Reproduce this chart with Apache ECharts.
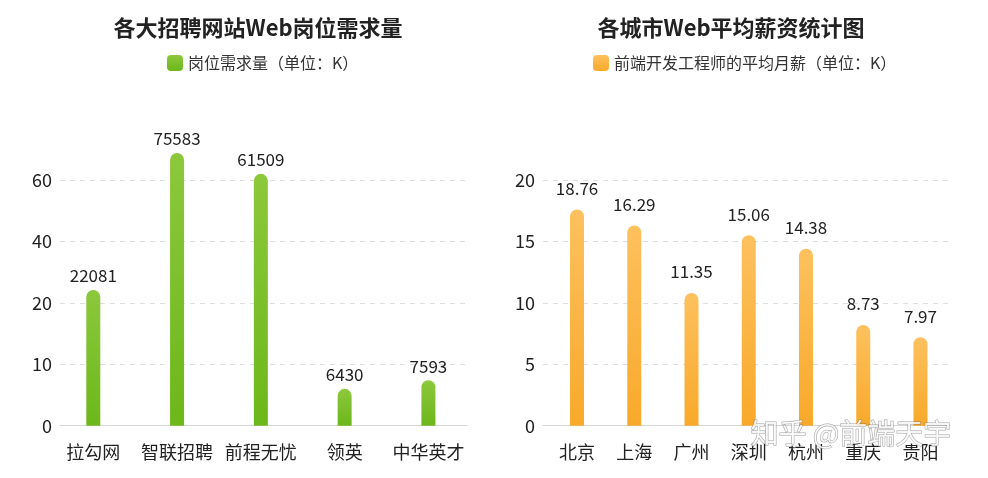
<!DOCTYPE html>
<html>
<head lang="zh">
    <meta charset="UTF-8">
    <title>Web岗位需求与薪资</title>
    <style>
        html, body { margin: 0; padding: 0; background: #fff; }
    </style>
</head>
<body>
<div id="container" style="height:478px;width:988px"></div>
<script type="text/javascript" src="https://cdn.jsdelivr.net/npm/echarts@6/dist/echarts.min.js"></script>
<script type="text/javascript">
    // 左图：各招聘网站
    var sites = ['拉勾网', '智联招聘', '前程无忧', '领英', '中华英才'];
    var jobLabels = ['22081', '75583', '61509', '6430', '7593'];
    var jobHeights = [24.2, 68.8, 62, 6.0, 7.4];   // 按图上纵轴读数
    var jobTicks = [0, 10, 20, 40, 60];             // 纵轴刻度（非等差）

    // 右图：各城市平均薪资
    var cities = ['北京', '上海', '广州', '深圳', '杭州', '重庆', '贵阳'];
    var salaryLabels = ['18.76', '16.29', '11.35', '15.06', '14.38', '8.73', '7.97'];
    var salaryHeights = [17.6, 16.3, 10.8, 15.5, 14.4, 8.2, 7.2];
    var salaryTicks = [0, 5, 10, 15, 20];

    var FONT = '"Noto Sans CJK SC", "Noto Sans", sans-serif';

    // 把图上读数换成刻度序号位置（左图纵轴刻度间距不等）
    function toTickPos(v, ticks) {
        for (var i = 1; i < ticks.length; i++) {
            if (v <= ticks[i] || i === ticks.length - 1) {
                return (i - 1) + (v - ticks[i - 1]) / (ticks[i] - ticks[i - 1]);
            }
        }
    }

    var dom = document.getElementById('container');
    var myChart = echarts.init(dom);

    var green = new echarts.graphic.LinearGradient(0, 0, 0, 1, [
        {offset: 0, color: '#8cc83c'},
        {offset: 1, color: '#6cb71a'}
    ]);
    var orange = new echarts.graphic.LinearGradient(0, 0, 0, 1, [
        {offset: 0, color: '#fdc15e'},
        {offset: 1, color: '#f8a92a'}
    ]);

    var gridTop = 180, gridBottom = 52.3;
    var splitStyle = {show: true, lineStyle: {color: '#dedede', type: [5, 5]}};
    var lineAxis = {show: true, lineStyle: {color: '#d6d6d6'}};
    var txt = '#222';

    var option = {
        textStyle: {fontFamily: FONT},
        animation: false,
        graphic: [
            {type: 'text', left: 263.5 - 150, top: 17, style: {text: '各大招聘网站Web岗位需求量', width: 300, align: 'center',
                font: 'bold 22px ' + FONT, fill: '#222'}},
            {type: 'text', left: 747.5 - 150, top: 17, style: {text: '各城市Web平均薪资统计图', width: 300, align: 'center',
                font: 'bold 22px ' + FONT, fill: '#222'}},
            {type: 'text', left: 750, top: 419, z: 100, style: {text: '知乎 @前端天宇',
                font: '28px ' + FONT, fill: 'rgba(255,255,255,0.8)', stroke: 'rgba(100,100,100,0.6)', lineWidth: 1}}
        ],
        legend: [
            {left: 162, top: 50, itemWidth: 16, itemHeight: 16, icon: 'roundRect', itemGap: 6,
                textStyle: {fontSize: 16, color: '#333', fontFamily: FONT},
                data: ['岗位需求量（单位：K）']},
            {left: 588, top: 50, itemWidth: 16, itemHeight: 16, icon: 'roundRect', itemGap: 6,
                textStyle: {fontSize: 16, color: '#333', fontFamily: FONT},
                data: ['前端开发工程师的平均月薪（单位：K）']}
        ],
        grid: [
            {left: 60, width: 407, top: gridTop, bottom: gridBottom},
            {left: 51.4, width: 418.9, top: gridTop, bottom: gridBottom},
            {left: 543, width: 407, top: gridTop, bottom: gridBottom},
            {left: 548.4, width: 400.7, top: gridTop, bottom: gridBottom}
        ],
        xAxis: [
            {gridIndex: 0, type: 'category', data: sites, axisLine: lineAxis, axisTick: {show: false}, axisLabel: {show: false}},
            {gridIndex: 1, type: 'category', data: sites, axisLine: {show: false}, axisTick: {show: false},
                axisLabel: {interval: 0, fontSize: 18, color: txt, margin: 17, fontFamily: FONT}},
            {gridIndex: 2, type: 'category', data: cities, axisLine: lineAxis, axisTick: {show: false}, axisLabel: {show: false}},
            {gridIndex: 3, type: 'category', data: cities, axisLine: {show: false}, axisTick: {show: false},
                axisLabel: {interval: 0, fontSize: 18, color: txt, margin: 17, fontFamily: FONT}}
        ],
        yAxis: [
            {gridIndex: 0, type: 'value', min: 0, max: jobTicks.length - 1, interval: 1, splitLine: splitStyle,
                axisLabel: {fontSize: 18, color: txt, margin: 8, fontFamily: FONT,
                    formatter: function (v) { return jobTicks[Math.round(v)]; }}},
            {gridIndex: 1, type: 'value', min: 0, max: jobTicks.length - 1, interval: 1, show: false},
            {gridIndex: 2, type: 'value', min: salaryTicks[0], max: salaryTicks[salaryTicks.length - 1], interval: 5,
                splitLine: splitStyle,
                axisLabel: {fontSize: 18, color: txt, margin: 8, fontFamily: FONT}},
            {gridIndex: 3, type: 'value', min: salaryTicks[0], max: salaryTicks[salaryTicks.length - 1], interval: 5, show: false}
        ],
        series: [
            {
                name: '岗位需求量（单位：K）',
                type: 'bar',
                xAxisIndex: 1, yAxisIndex: 1,
                clip: false,
                barWidth: 14,
                data: jobHeights.map(function (v) { return toTickPos(v, jobTicks); }),
                itemStyle: {color: green, borderRadius: [7, 7, 0, 0]},
                label: {show: true, position: 'top', distance: 5, fontSize: 17, lineHeight: 18, color: txt,
                    fontFamily: FONT,
                    formatter: function (p) { return jobLabels[p.dataIndex]; }}
            },
            {
                name: '前端开发工程师的平均月薪（单位：K）',
                type: 'bar',
                xAxisIndex: 3, yAxisIndex: 3,
                clip: false,
                barWidth: 14,
                data: salaryHeights,
                itemStyle: {color: orange, borderRadius: [7, 7, 0, 0]},
                label: {show: true, position: 'top', distance: 12, fontSize: 17, lineHeight: 18, color: txt,
                    fontFamily: FONT,
                    formatter: function (p) { return salaryLabels[p.dataIndex]; }}
            }
        ]
    };
    myChart.setOption(option);
</script>
</body>
</html>
